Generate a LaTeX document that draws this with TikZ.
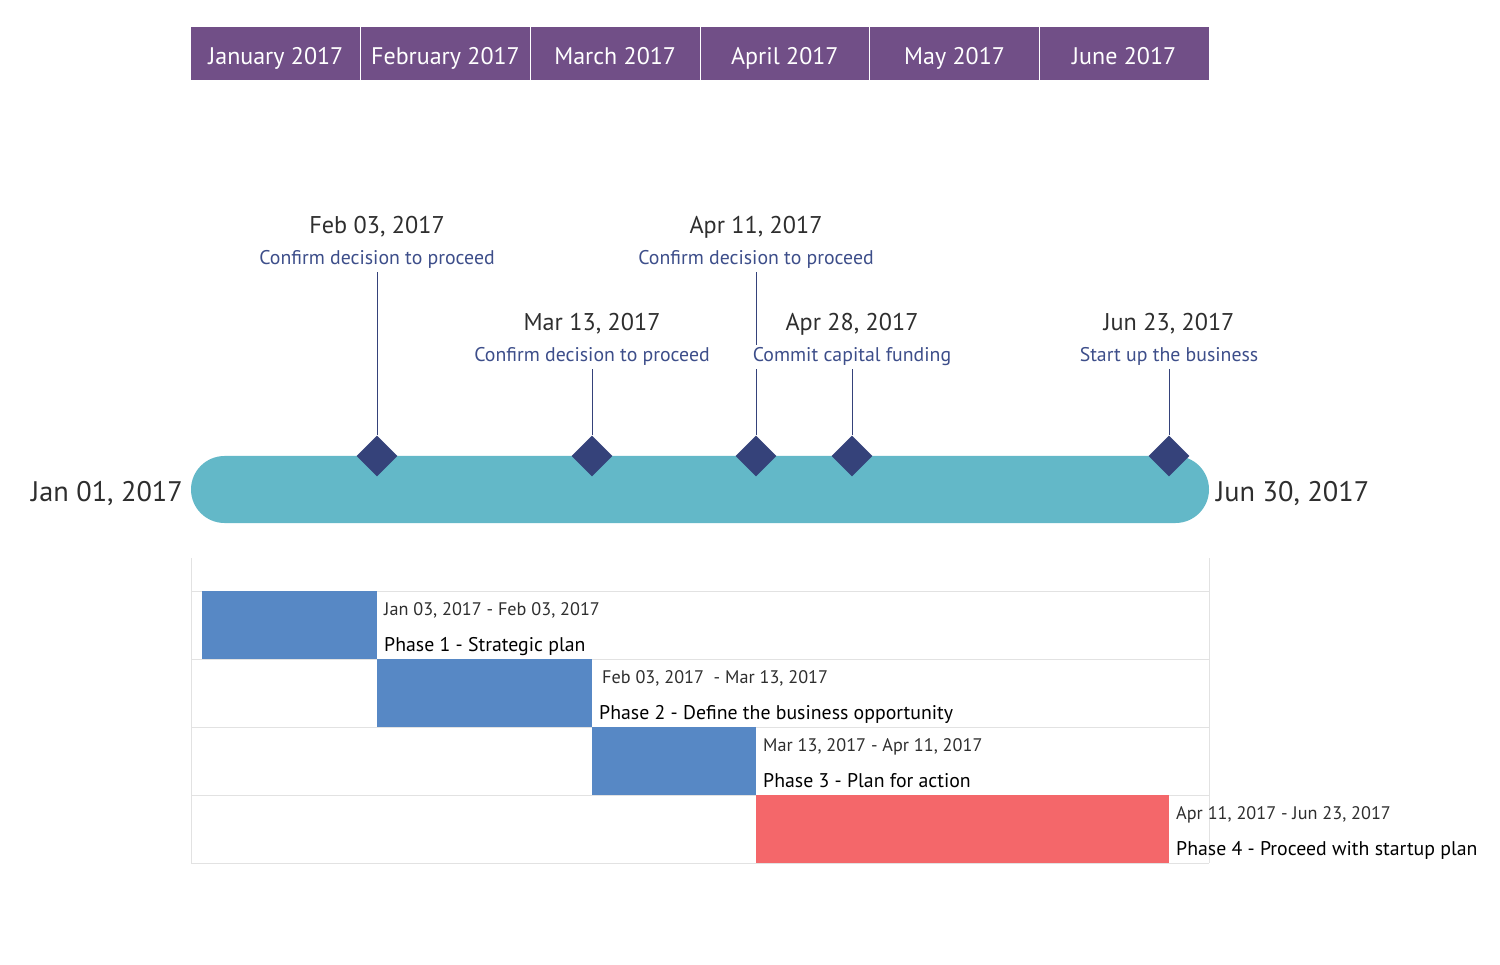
\documentclass[tikz,border=0pt]{standalone}
\usepackage{fontspec}
\setmainfont{PT Sans}
\usetikzlibrary{shapes.geometric}
\definecolor{hdr}{HTML}{714F87}
\definecolor{teal}{HTML}{63B8C8}
\definecolor{dia}{HTML}{35427A}
\definecolor{desc}{HTML}{3D4E8A}
\definecolor{bluebar}{HTML}{5788C5}
\definecolor{redbar}{HTML}{F4676A}
\definecolor{grid}{HTML}{E2E2E2}
\definecolor{dark}{HTML}{2E2E2E}
\tikzset{
  month/.style={draw=white, line width=1pt, fill=hdr, text=white, minimum width=169.67pt, minimum height=54pt, inner sep=0pt, text height=24pt, text depth=2pt, font=\fontsize{24}{24}\selectfont},
  ms/.style={diamond, fill=dia, minimum width=41pt, minimum height=41pt, inner sep=0pt},
  mdate/.style={anchor=base, text=dark, inner sep=1pt, font=\fontsize{24.2}{24}\selectfont},
  mdesc/.style={anchor=base, text=desc, inner sep=3pt, fill=white, font=\fontsize{19.8}{20}\selectfont},
  enddate/.style={anchor=base, text=dark, inner sep=0pt, font=\fontsize{28.3}{28}\selectfont},
  stem/.style={draw=dia, line width=1pt},
  gdate/.style={anchor=base west, text=dark, inner sep=0pt, font=\fontsize{18.2}{18}\selectfont},
  gphase/.style={anchor=base west, text=black, inner sep=0pt, font=\fontsize{19.8}{20}\selectfont},
  gline/.style={draw=grid, line width=1pt}
}
\begin{document}
\begin{tikzpicture}[x=1pt,y=-1pt]
\useasboundingbox (0,0) rectangle (1500,965);
% month header
\foreach \m [count=\i from 0] in {January 2017,February 2017,March 2017,April 2017,May 2017,June 2017}{
  \node[month] (m\i) at ({191+169.67*\i+84.83},54) {\m};
}
% timeline bar
\fill[teal, rounded corners=33.5pt] (191,456) rectangle (1209,523);
\node[enddate, anchor=base east] (start) at (183,501) {Jan 01, 2017};
\node[enddate, anchor=base west] (end) at (1216,501) {Jun 30, 2017};
% milestones
\node[ms] (d1) at (377,456) {};
\node[ms] (d2) at (592,456) {};
\node[ms] (d3) at (756,456) {};
\node[ms] (d4) at (852,456) {};
\node[ms] (d5) at (1169,456) {};
% labels
\node[mdate] (t1) at (377,234) {Feb 03, 2017};
\node[mdesc] (c1) at (377,265) {Confirm decision to proceed};
\node[mdate] (t3) at (756,234) {Apr 11, 2017};
\node[mdesc] (c3) at (756,265) {Confirm decision to proceed};
\node[mdate] (t2) at (592,331) {Mar 13, 2017};
\node[mdesc] (c2) at (592,362) {Confirm decision to proceed};
\node[mdate] (t5) at (1169,331) {Jun 23, 2017};
\node[mdesc] (c5) at (1169,362) {Start up the business};
\draw[stem] (c1.south) -- (d1.north);
\draw[stem] (c2.south) -- (d2.north);
\draw[stem] (c3.south) -- (d3.north);
\draw[stem] (c5.south) -- (d5.north);
\node[mdate] (t4) at (852,331) {Apr 28, 2017};
\node[mdesc] (c4) at (852,362) {Commit capital funding};
\draw[stem] (c4.south) -- (d4.north);
% gantt grid
\draw[gline] (191,558) -- (191,863);
\draw[gline] (1209,558) -- (1209,863);
\foreach \y in {591,659,727,795,863}{\draw[gline] (191,\y) -- (1209,\y);}
% bars
\node[fill=bluebar, draw=none, inner sep=0pt, minimum width=175pt, minimum height=68pt, anchor=north west] (p1) at (202,591) {};
\node[fill=bluebar, draw=none, inner sep=0pt, minimum width=215pt, minimum height=68pt, anchor=north west] (p2) at (377,659) {};
\node[fill=bluebar, draw=none, inner sep=0pt, minimum width=164pt, minimum height=68pt, anchor=north west] (p3) at (592,727) {};
\node[fill=redbar, draw=none, inner sep=0pt, minimum width=413pt, minimum height=68pt, anchor=north west] (p4) at (756,795) {};
% gantt labels
\node[gdate] (g1d) at (384,615) {Jan 03, 2017 - Feb 03, 2017};
\node[gphase] (g1p) at (384,651) {Phase 1 - Strategic plan};
\node[gdate] (g2d) at (602,683) {Feb 03, 2017 \ - Mar 13, 2017};
\node[gphase] (g2p) at (599,719) {Phase 2 - Define the business opportunity};
\node[gdate] (g3d) at (763,751) {Mar 13, 2017 - Apr 11, 2017};
\node[gphase] (g3p) at (763,787) {Phase 3 - Plan for action};
\node[gdate] (g4d) at (1176,819) {Apr 11, 2017 - Jun 23, 2017};
\node[gphase] (g4p) at (1176,855) {Phase 4 - Proceed with startup plan};
\end{tikzpicture}
\end{document}
